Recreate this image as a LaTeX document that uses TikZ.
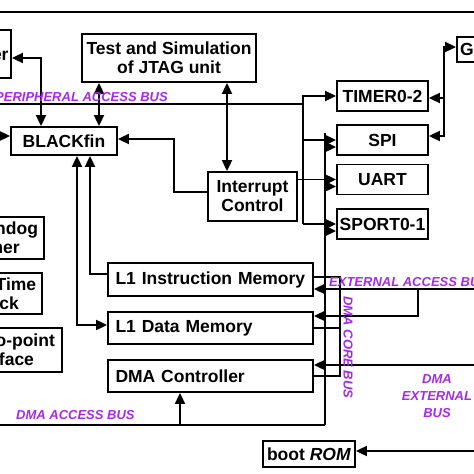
\documentclass[tikz,border=0pt]{standalone}
\usepackage{fontspec}
\setmainfont{Liberation Sans}
\usepackage{xcolor}
\usetikzlibrary{arrows.meta}
\definecolor{BusViolet}{rgb}{0.65,0.16,0.92}

\begin{document}
\begin{tikzpicture}[x=1pt, y=-1pt,
	block/.style={draw, line width=1.8pt, font=\bfseries\fontsize{17.5}{19}\selectfont, align=center, inner sep=0pt},
	membox/.style={block, align=left, text width=190pt, inner xsep=7.5pt, minimum height=33pt},
	busname/.style={font=\bfseries\itshape\fontsize{13}{17}\selectfont, text=BusViolet, inner sep=0pt},
	wire/.style={line width=1.8pt},
	arrowline/.style={wire, -{Triangle[length=11pt,width=10pt]}},
	backline/.style={wire, {Triangle[length=11pt,width=10pt]}-},
	dblarrow/.style={wire, {Triangle[length=11pt,width=10pt]}-{Triangle[length=11pt,width=10pt]}}]
		\useasboundingbox (0,0) rectangle (474,474);
		
		% blocks
		\node[block, minimum width=141pt, minimum height=48pt] (evtctl) at (-59.5,54) {Event Controller};
		\node[block, minimum width=174pt, minimum height=48pt] (jtag) at (169,58) {Test and Simulation\\of JTAG unit};
		\node[block, minimum width=106pt, minimum height=28pt] (cpu) at (64,141) {BLACKfin};
		\node[block, minimum width=89pt, minimum height=49pt] (intr) at (252.5,196.5) {Interrupt\\Control};
		\node[block, minimum width=91pt, minimum height=30pt] (timer) at (382.5,96) {TIMER0-2};
		\node[block, minimum width=91pt, minimum height=30pt] (spi) at (382.5,140) {SPI};
		\node[block, minimum width=91pt, minimum height=30pt] (uart) at (382.5,179.5) {UART};
		\node[block, minimum width=91pt, minimum height=30pt] (sport) at (382.5,224) {SPORT0-1};
		\node[block, minimum width=50pt, minimum height=25pt] (gpio) at (482,49.5) {GPIO};
		\node[block, minimum width=96pt, minimum height=42pt] (wdog) at (-4,238) {Watchdog\\Timer};
		\node[block, minimum width=94pt, minimum height=41pt] (rtc) at (-5,293.5) {Real Time\\Clock};
		\node[block, minimum width=129pt, minimum height=44pt] (ppi) at (-2.5,350) {Point-to-point\\Interface};
		\node[membox] (l1i) at (210.5,279.5) {L1 Instruction Memory};
		\node[membox, minimum height=32pt] (l1d) at (210.5,328) {L1 Data Memory};
		\node[membox, minimum height=32pt] (dmac) at (210.5,376) {DMA Controller};
		\node[block, minimum width=92pt, minimum height=26pt] (boot) at (309,454) {boot \textit{ROM}};
		
		% bus points
		\coordinate (cpuin) at (-5,136);
		\coordinate (pbL) at (-5,104);
		\coordinate (pbus) at (303,104);
		\coordinate (core) at (325,133);
		\coordinate (dabL) at (-5,425);
		\coordinate (dabC) at (325,425);
		\coordinate (dab) at (180,425);
		\coordinate (dcb) at (340,376);
		\coordinate (eab) at (480,289);
		\coordinate (eabT) at (418,289);
		\coordinate (deb) at (480,365);
		\coordinate (romin) at (480,451);
		
		\draw[wire] (-5,12) -- (480,12);
		
		\draw[arrowline] (cpuin) -- (cpuin -| cpu.west);
		\draw[dblarrow] ([yshift=-4pt]evtctl.east) -| ([xshift=-23pt]cpu.north);
		\draw[dblarrow] ([xshift=-70pt]jtag.south) -- ([xshift=35pt]cpu.north);
		\draw[dblarrow] ([xshift=58pt]jtag.south) -- ([xshift=-25.5pt]intr.north);
		\draw[arrowline] ([yshift=4.5pt]intr.west) -- ++(-33,0) |- ([yshift=2pt]cpu.east);
		\draw[arrowline] ([yshift=5.5pt]l1i.west) -| ([xshift=26pt]cpu.south);
		\draw[dblarrow] ([xshift=13pt]cpu.south) |- ([yshift=3pt]l1d.west);
		
		% peripheral side
		\draw[arrowline] (pbL) -- (pbus) |- (timer.west);
		\draw[wire] (pbus) -- (pbus |- sport.west);
		\foreach \p in {spi,uart,sport}
			\draw[arrowline] (pbus |- \p.west) -- (\p.west);
		\draw[wire] (intr.east |- uart.west) -- (pbus |- uart.west);
		\draw[wire] (core) -- (dabC);
		\foreach \p in {spi,uart,sport}
			\draw[backline] ([yshift=-7pt]\p.west) -- ++(-12,0);
		\draw[dblarrow] ([yshift=4pt]spi.east) -- ++(15,0) |- ([yshift=2.5pt]gpio.west);
		\draw[backline] ([yshift=-2pt]timer.east) -- ++(15,0);
		
		% dma side
		\draw[wire] (dabL) -- (dabC);
		\draw[arrowline] (dab) -- (dab |- dmac.south);
		\draw[wire] ([yshift=2.5pt]l1i.east) -| (dcb) -- (dmac.east);
		\draw[wire] (l1d.east) -- (l1d.east -| dcb);
		\draw[arrowline] (eab) -- (eab -| l1i.east);
		\draw[arrowline] (eabT) |- ([yshift=12pt]l1d.east);
		\draw[arrowline] (deb) -- (deb -| dmac.east);
		\draw[arrowline] (romin) -- (romin -| boot.east);
		
		% bus names
		\node[busname, anchor=base east] (pablbl) at (168,101) {PERIPHERAL ACCESS BUS};
		\node[busname, anchor=base west] (eablbl) at (329,286) {EXTERNAL ACCESS BUS};
		\node[busname, rotate=-90] (dcblbl) at (348,347.5) {DMA CORE BUS};
		\node[busname, align=center] (deblbl) at (437,396) {DMA\\EXTERNAL\\BUS};
		\node[busname, anchor=base west] (dablbl) at (16,419) {DMA ACCESS BUS};
	\end{tikzpicture}
\end{document}
